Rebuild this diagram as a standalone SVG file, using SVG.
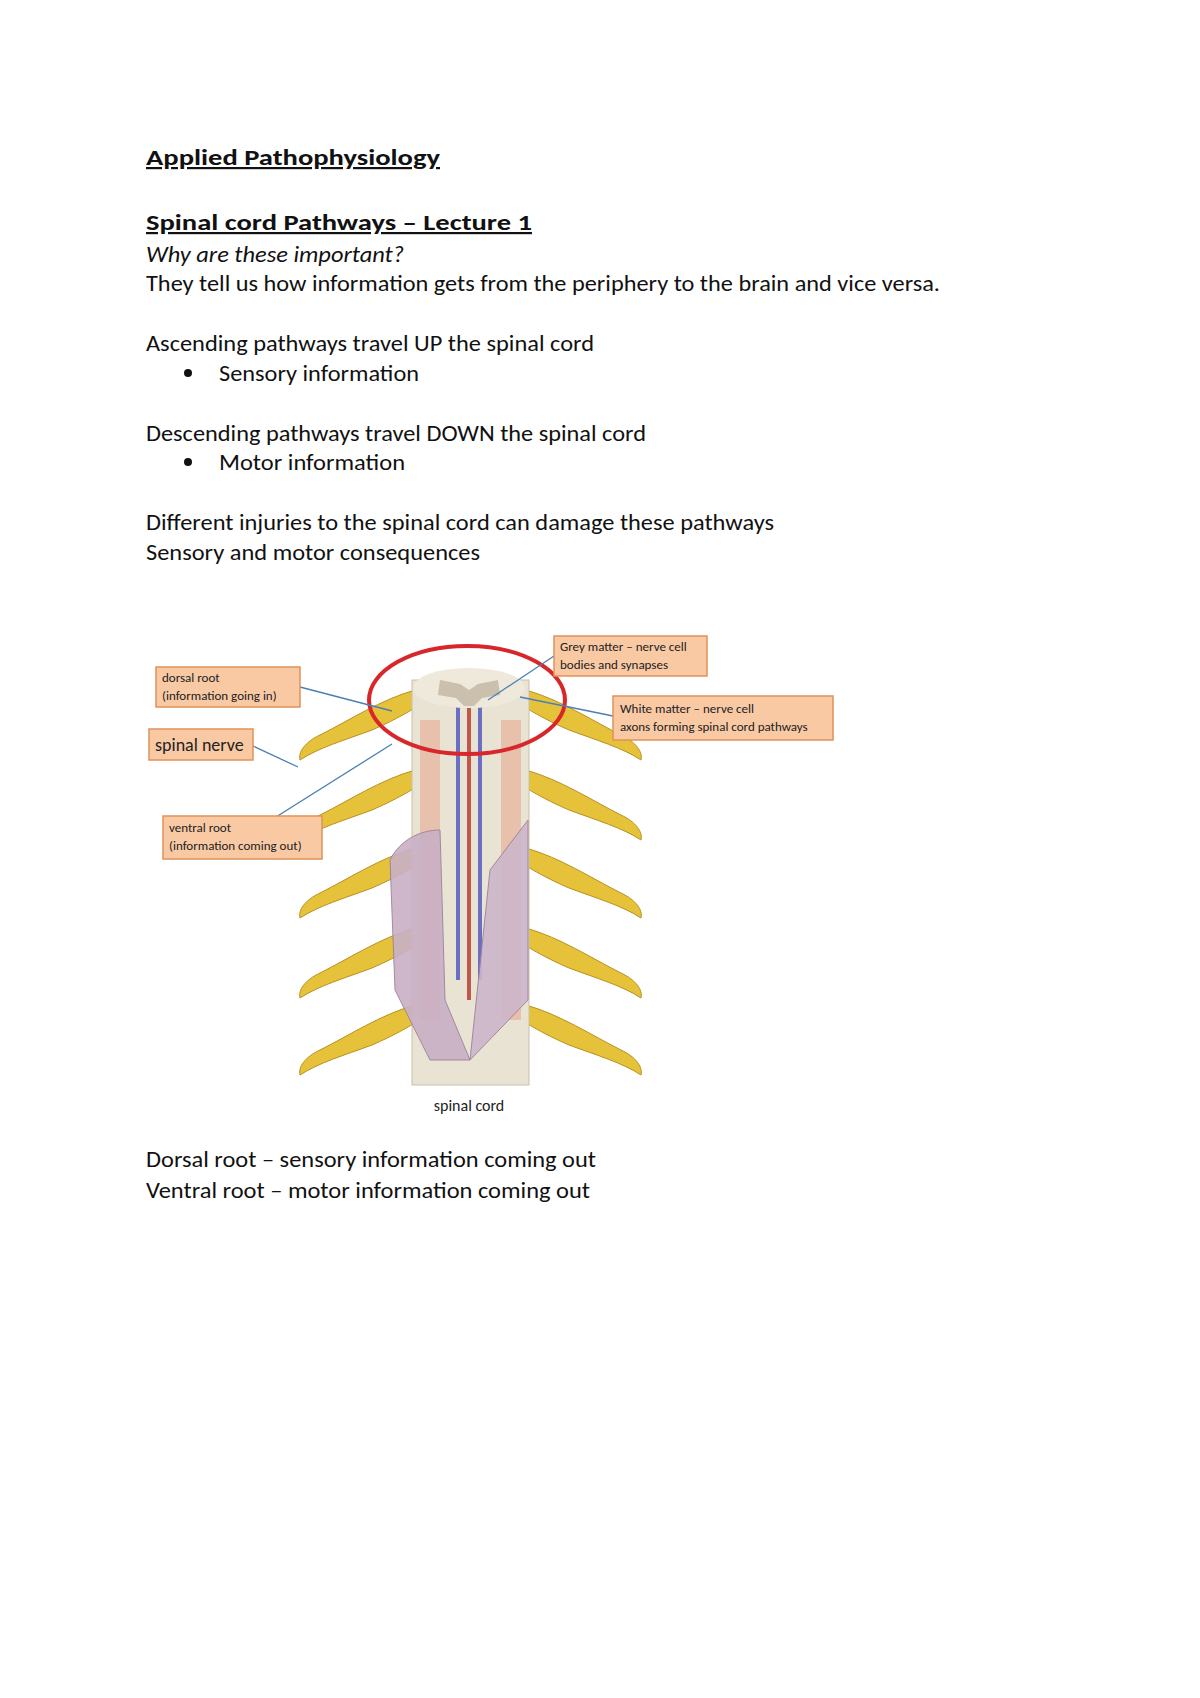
<svg xmlns="http://www.w3.org/2000/svg" width="1200" height="1698" viewBox="0 0 1200 1698">
<style>
.t{font-family:Carlito,"Liberation Sans",Arial,sans-serif;font-size:22px;fill:#111}
.h{font-weight:bold;text-decoration:underline}
.l{font-family:Carlito,"Liberation Sans",Arial,sans-serif;font-size:13px;fill:#222}
.box{fill:#f9c9a4;stroke:#e0925a;stroke-width:1.5}
.lead{stroke:#4a7fb5;stroke-width:1.3;fill:none}
.nerve{fill:#e6c23a;stroke:#b8901e;stroke-width:1}
</style>
<rect width="1200" height="1698" fill="#fff"/>
<g id="text">
<text class="t h" x="146" y="165" textLength="294" lengthAdjust="spacingAndGlyphs">Applied Pathophysiology</text>
<text class="t h" x="146" y="230" textLength="386" lengthAdjust="spacingAndGlyphs">Spinal cord Pathways – Lecture 1</text>
<text class="t" x="146" y="262" font-style="italic" textLength="258" lengthAdjust="spacingAndGlyphs">Why are these important?</text>
<text class="t" x="146" y="291" textLength="794" lengthAdjust="spacingAndGlyphs">They tell us how information gets from the periphery to the brain and vice versa.</text>
<text class="t" x="146" y="351" textLength="448" lengthAdjust="spacingAndGlyphs">Ascending pathways travel UP the spinal cord</text>
<circle cx="188" cy="373" r="4" fill="#111"/>
<text class="t" x="219" y="381" textLength="200" lengthAdjust="spacingAndGlyphs">Sensory information</text>
<text class="t" x="146" y="441" textLength="500" lengthAdjust="spacingAndGlyphs">Descending pathways travel DOWN the spinal cord</text>
<circle cx="188" cy="462" r="4" fill="#111"/>
<text class="t" x="219" y="470" textLength="186" lengthAdjust="spacingAndGlyphs">Motor information</text>
<text class="t" x="146" y="530" textLength="628" lengthAdjust="spacingAndGlyphs">Different injuries to the spinal cord can damage these pathways</text>
<text class="t" x="146" y="560" textLength="334" lengthAdjust="spacingAndGlyphs">Sensory and motor consequences</text>
<text class="t" x="146" y="1167" textLength="450" lengthAdjust="spacingAndGlyphs">Dorsal root – sensory information coming out</text>
<text class="t" x="146" y="1198" textLength="444" lengthAdjust="spacingAndGlyphs">Ventral root – motor information coming out</text>
</g>
<g id="illustration">
<g id="nerves-left">
<path class="nerve" d="M415 690 C380 700 350 720 320 735 C305 742 298 752 300 760 C318 748 345 740 372 730 C395 720 408 712 415 708Z"/>
<path class="nerve" d="M415 770 C380 780 350 800 320 815 C305 822 298 832 300 840 C318 828 345 820 372 810 C395 800 408 792 415 788Z"/>
<path class="nerve" d="M415 848 C380 858 350 878 320 893 C305 900 298 910 300 918 C318 906 345 898 372 888 C395 878 408 870 415 866Z"/>
<path class="nerve" d="M415 928 C380 938 350 958 320 973 C305 980 298 990 300 998 C318 986 345 978 372 968 C395 958 408 950 415 946Z"/>
<path class="nerve" d="M415 1005 C380 1015 350 1035 320 1050 C305 1057 298 1067 300 1075 C318 1063 345 1055 372 1045 C395 1035 408 1027 415 1023Z"/>
</g>
<g id="nerves-right">
<path class="nerve" d="M526 690 C561 700 591 720 621 735 C636 742 643 752 641 760 C623 748 596 740 569 730 C546 720 533 712 526 708Z"/>
<path class="nerve" d="M526 770 C561 780 591 800 621 815 C636 822 643 832 641 840 C623 828 596 820 569 810 C546 800 533 792 526 788Z"/>
<path class="nerve" d="M526 848 C561 858 591 878 621 893 C636 900 643 910 641 918 C623 906 596 898 569 888 C546 878 533 870 526 866Z"/>
<path class="nerve" d="M526 928 C561 938 591 958 621 973 C636 980 643 990 641 998 C623 986 596 978 569 968 C546 958 533 950 526 946Z"/>
<path class="nerve" d="M526 1005 C561 1015 591 1035 621 1050 C636 1057 643 1067 641 1075 C623 1063 596 1055 569 1045 C546 1035 533 1027 526 1023Z"/>
</g>
<rect x="412" y="680" width="117" height="405" fill="#e9e3d3" stroke="#c8c0ac"/>
<rect x="420" y="720" width="20" height="300" fill="#e8c1ad"/>
<rect x="501" y="720" width="20" height="300" fill="#e8c1ad"/>
<line x1="458" y1="690" x2="458" y2="980" stroke="#6b6fc4" stroke-width="4"/>
<line x1="469" y1="690" x2="469" y2="1000" stroke="#c0574a" stroke-width="4"/>
<line x1="480" y1="690" x2="480" y2="980" stroke="#6b6fc4" stroke-width="4"/>
<path d="M390 860 C400 840 420 830 440 830 L445 1000 L470 1060 L430 1060 L395 990Z" fill="#c9b0c6" stroke="#9b7f9a" opacity="0.9"/>
<path d="M490 870 L528 820 L528 1000 L470 1060 Z" fill="#cdb6cb" stroke="#9b7f9a" opacity="0.9"/>
<ellipse cx="469" cy="688" rx="56" ry="20" fill="#efe9dc"/>
<path d="M440 680 L460 684 L469 690 L478 684 L498 680 L500 695 L482 698 L474 706 L464 706 L456 698 L438 695Z" fill="#cbbfae"/>
<ellipse cx="467" cy="700" rx="98" ry="54" fill="none" stroke="#d8272a" stroke-width="4"/>
</g>
<g id="connectors">
<line class="lead" x1="300" y1="687" x2="392" y2="711"/>
<line class="lead" x1="253" y1="746" x2="298" y2="767"/>
<line class="lead" x1="268" y1="822" x2="392" y2="744"/>
<line class="lead" x1="554" y1="656" x2="488" y2="700"/>
<line class="lead" x1="613" y1="716" x2="520" y2="697"/>
</g>
<g id="label-dorsal"><rect class="box" x="156" y="667" width="144" height="40"/><text class="l" x="162" y="682">dorsal root</text><text class="l" x="162" y="700">(information going in)</text></g>
<g id="label-spinal-nerve"><rect class="box" x="149" y="729" width="104" height="31"/><text class="l" x="155" y="751" style="font-size:18px">spinal nerve</text></g>
<g id="label-ventral"><rect class="box" x="163" y="816" width="159" height="43"/><text class="l" x="169" y="832">ventral  root</text><text class="l" x="169" y="850">(information coming out)</text></g>
<g id="label-grey"><rect class="box" x="554" y="636" width="153" height="40"/><text class="l" x="560" y="651">Grey matter – nerve cell</text><text class="l" x="560" y="669">bodies and synapses</text></g>
<g id="label-white"><rect class="box" x="613" y="696" width="220" height="44"/><text class="l" x="620" y="713">White matter – nerve cell</text><text class="l" x="620" y="731">axons forming spinal cord pathways</text></g>
<text class="l" x="469" y="1111" text-anchor="middle" style="font-size:16px">spinal cord</text>
</svg>
